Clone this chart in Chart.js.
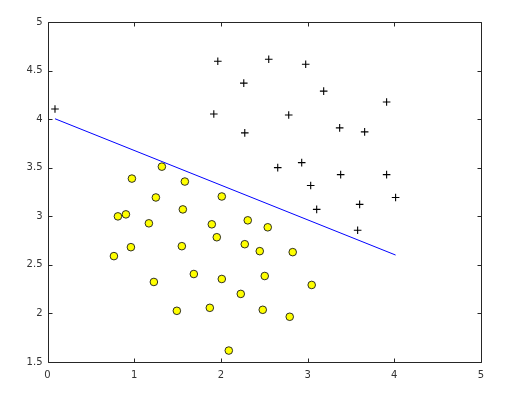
<!DOCTYPE html>
<html>
<head>
<meta charset="utf-8">
<script src="https://cdn.jsdelivr.net/npm/chart.js@4/dist/chart.umd.min.js"></script>
<style>
html,body{margin:0;padding:0;background:#fff;}
#wrap{width:516px;height:397px;position:relative;}
</style>
</head>
<body>
<div id="wrap"><canvas id="c" width="516" height="397"></canvas></div>
<script>
// Positive examples (plus markers)
const posX = [1.9643, 2.2753, 2.9781, 2.932, 3.5772, 4.015, 3.3814, 3.9113, 2.7822, 2.5518, 3.3698, 3.1048, 1.9182, 2.2638, 2.6555, 3.1855, 3.6579, 3.9113, 3.6002, 3.0357, 0.086405];
const posY = [4.5957, 3.8589, 4.5651, 3.5519, 2.856, 3.1937, 3.4291, 4.1761, 4.0431, 4.6162, 3.9101, 3.0709, 4.0534, 4.3706, 3.5008, 4.2888, 3.8692, 3.4291, 3.1221, 3.3165, 4.1045];
// Negative examples (yellow circles)
const negX = [1.5841, 2.0103, 1.9527, 2.2753, 2.3099, 2.8283, 3.0473, 2.4827, 2.5057, 1.8721, 2.0103, 1.2269, 1.8951, 1.561, 1.5495, 1.6878, 1.4919, 0.962, 1.1693, 0.8122, 0.9735, 1.25, 1.3191, 2.2292, 2.4482, 2.7938, 2.091, 2.5403, 0.9044, 0.76615];
const negY = [3.3575, 3.2039, 2.7843, 2.7127, 2.9584, 2.6309, 2.2931, 2.0373, 2.3853, 2.0577, 2.3546, 2.3239, 2.9174, 3.0709, 2.6923, 2.4057, 2.0271, 2.682, 2.9276, 2.9992, 3.3881, 3.1937, 3.5109, 2.201, 2.6411, 1.9656, 1.6177, 2.8867, 3.0198, 2.5899];
// Decision boundary endpoints
const boundaryX = [0.086405, 4.015];
const boundaryY = [4.004, 2.601];
// Tick values and labels
const xTicks = [0, 1, 2, 3, 4, 5];
const xTickLabels = ['0', '1', '2', '3', '4', '5'];
const yTicks = [1.5, 2, 2.5, 3, 3.5, 4, 4.5, 5];
const yTickLabels = ['1.5', '2', '2.5', '3', '3.5', '4', '4.5', '5'];

const zip = (xs, ys) => xs.map((x, i) => ({x: x, y: ys[i]}));

const frame = {
  id: 'frame',
  afterDatasetsDraw(chart) {
    const {ctx, chartArea: a, scales} = chart;
    ctx.save();
    ctx.strokeStyle = '#262626';
    ctx.lineWidth = 1;
    const L = Math.round(a.left) + 0.5, R = Math.round(a.right) + 0.5;
    const T = Math.round(a.top) + 0.5, B = Math.round(a.bottom) + 0.5;
    ctx.beginPath();
    ctx.rect(L, T, R - L, B - T);
    const tl = 4;
    xTicks.forEach(v => {
      const p = Math.round(scales.x.getPixelForValue(v)) + 0.5;
      ctx.moveTo(p, B); ctx.lineTo(p, B - tl);
      ctx.moveTo(p, T); ctx.lineTo(p, T + tl);
    });
    yTicks.forEach(v => {
      const p = Math.round(scales.y.getPixelForValue(v)) + 0.5;
      ctx.moveTo(L, p); ctx.lineTo(L + tl, p);
      ctx.moveTo(R, p); ctx.lineTo(R - tl, p);
    });
    ctx.stroke();
    ctx.restore();
  }
};

new Chart(document.getElementById('c'), {
  type: 'scatter',
  data: {
    datasets: [
      {
        label: 'boundary',
        type: 'line',
        data: zip(boundaryX, boundaryY),
        borderColor: '#0000ff',
        borderWidth: 1,
        pointRadius: 0,
        fill: false,
        order: 3
      },
      {
        label: 'positive',
        data: zip(posX, posY),
        pointStyle: 'cross',
        pointRadius: 3.8,
        borderColor: '#000000',
        borderWidth: 1.1,
        order: 2
      },
      {
        label: 'negative',
        data: zip(negX, negY),
        pointStyle: 'circle',
        pointRadius: 3.8,
        backgroundColor: '#ffff00',
        borderColor: '#1a1a1a',
        borderWidth: 0.9,
        order: 1
      }
    ]
  },
  options: {
    responsive: false,
    animation: false,
    events: [],
    layout: {padding: {top: 22, right: 35, left: 0, bottom: 0}},
    plugins: {legend: {display: false}, tooltip: {enabled: false}},
    scales: {
      x: {
        type: 'linear', min: 0, max: 5,
        afterBuildTicks: s => { s.ticks = xTicks.map(v => ({value: v})); },
        afterFit: s => { s.height = 35; },
        grid: {display: false, drawTicks: false},
        border: {display: false},
        ticks: {padding: 7, color: '#333333', font: {family: 'DejaVu Sans', size: 10}, maxRotation: 0,
          callback: (v) => xTickLabels[xTicks.indexOf(v)] ?? String(v)}
      },
      y: {
        type: 'linear', min: 1.5, max: 5,
        afterBuildTicks: s => { s.ticks = yTicks.map(v => ({value: v})); },
        afterFit: s => { s.width = 47.5; },
        grid: {display: false, drawTicks: false},
        border: {display: false},
        ticks: {padding: 5, color: '#333333', font: {family: 'DejaVu Sans', size: 10},
          callback: (v) => yTickLabels[yTicks.indexOf(v)] ?? String(v)}
      }
    }
  },
  plugins: [frame]
});
</script>
</body>
</html>
